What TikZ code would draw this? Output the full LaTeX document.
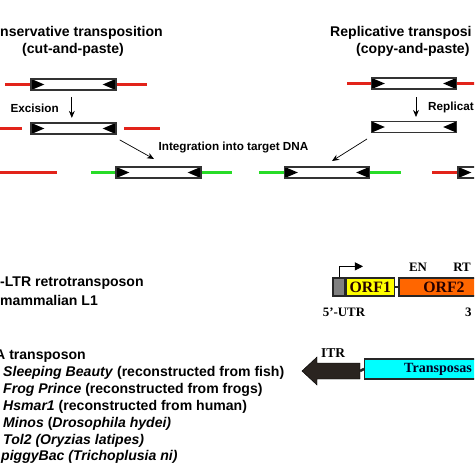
\documentclass[tikz,border=0pt]{standalone}
\usepackage{fontspec}
\setmainfont{Liberation Sans}
\newfontfamily\timesb{Liberation Serif}
\usetikzlibrary{arrows.meta,positioning}
\definecolor{hostred}{RGB}{226,35,26}
\definecolor{targetgreen}{RGB}{40,220,40}
\definecolor{orfyellow}{RGB}{255,255,0}
\definecolor{orforange}{RGB}{255,102,0}
\definecolor{itrdark}{RGB}{42,36,32}
\definecolor{tpcyan}{RGB}{0,255,255}
\tikzset{
  element/.style={draw=black!80,line width=1.2pt,fill=white,inner sep=0pt,
    minimum width=2.55cm,minimum height=0.34cm,
    path picture={
      \fill[black] (path picture bounding box.north west) -- (path picture bounding box.south west)
        -- ([xshift=0.4cm]path picture bounding box.west) -- cycle;
      \fill[black] (path picture bounding box.north east) -- (path picture bounding box.south east)
        -- ([xshift=-0.4cm]path picture bounding box.east) -- cycle;}},
  host/.style={hostred,line width=2pt},
  target/.style={targetgreen,line width=2pt},
  move/.style={-{Stealth[length=6pt,width=5pt]},line width=0.6pt},
  title/.style={inner sep=0pt,font=\bfseries\fontsize{12}{14}\selectfont},
  small/.style={inner sep=0pt,font=\bfseries\fontsize{10}{12}\selectfont},
  item/.style={inner sep=0pt,anchor=west,font=\bfseries\fontsize{12}{14}\selectfont},
  gene/.style={draw=black!85,line width=1.1pt,inner sep=0pt,minimum height=0.54cm,
    font=\timesb\bfseries\fontsize{13.5}{15}\selectfont,text=black!85!red},
  glabel/.style={inner sep=0pt,font=\timesb\bfseries\fontsize{11}{13}\selectfont},
}
\begin{document}
\begin{tikzpicture}[x=0.03cm,y=-0.03cm]
  \useasboundingbox (0,0) rectangle (474,474);
  \clip (0,0) rectangle (474,474);
  % titles
  \node[title,anchor=west] (ctitle) at (0,33) {nservative transposition};
  \node[title] (csub) at (73,50) {(cut-and-paste)};
  \node[title,anchor=west] (rtitle) at (330,33) {Replicative transposi};
  \node[title,anchor=west] (rsub) at (356,50) {(copy-and-paste)};
  % cut-and-paste
  \node[element] (c1) at (73.5,84.5) {};
  \draw[host] (5,84.5) -- (c1.west);
  \draw[host] (c1.east) -- (147,84.5);
  \node[element] (c2) at (73.5,128.5) {};
  \coordinate (c2l) at (22,128.5);
  \coordinate (c2r) at (124,128.5);
  \draw[host] (0,128.5) -- (c2l);
  \draw[host] (c2r) -- (160,128.5);
  \draw[move] ([xshift=-0.05cm]c1.south) ++(0,6) -- ++(0,21);
  \node[small,anchor=east] (exc) at (59,108) {Excision};
  \draw[host] (0,172.5) -- (57,172.5);
  \node[element] (c3) at (158.5,172.5) {};
  \draw[target] (91,172.5) -- (c3.west);
  \draw[target] (c3.east) -- (232,172.5);
  \draw[move] (c2.south east) ++(3,5) -- (154,159);
  \node[small] (integ) at (233.5,147) {Integration into target DNA};
  % copy-and-paste
  \node[element] (r1) at (414,83.5) {};
  \draw[host] (347,83.5) -- (r1.west);
  \draw[host] (r1.east) -- (480,83.5);
  \draw[move] (416,97) -- (416,117);
  \node[small,anchor=west] (repl) at (428,107) {Replicat};
  \node[element] (r2) at (414,127) {};
  \node[element] (r3) at (327,172.5) {};
  \draw[target] (259,172.5) -- (r3.west);
  \draw[target] (r3.east) -- (401,172.5);
  \draw[move] (367,139) -- (332,161);
  \node[element] (r4) at (500.5,172.5) {};
  \draw[host] (432,172.5) -- (r4.west);
  % non-LTR retrotransposon
  \node[title,anchor=west] (ltr) at (0,283) {-LTR retrotransposon};
  \node[title,anchor=west] (lone) at (0,300) {mammalian L1};
  \node[gene,fill=gray,minimum width=0.36cm] (utr5) at (339,287) {};
  \node[gene,fill=orfyellow,minimum width=1.44cm,right=0pt of utr5] (orf1) {ORF1};
  \node[gene,fill=orforange,minimum width=2.7cm] (orf2) at (444,287) {ORF2};
  \draw[black!85,line width=2.2pt] (orf1.east) -- (orf2.west);
  \draw[-{Triangle[length=7pt,width=7pt]},line width=0.7pt] (utr5.north) -- ++(0,-11) -- ++(24,0);
  \node[glabel] (en) at (418,267) {EN};
  \node[glabel] (rt) at (462,267) {RT};
  \node[glabel] (utrlbl) at (344,312) {5’-UTR};
  \node[glabel,anchor=west] (utr3) at (465,312) {3};
  % DNA transposon
  \node[item] (dna) at (-5,356) {A transposon};
  \node[item] (sb) at (3,373) {\textit{Sleeping Beauty} (reconstructed from fish)};
  \node[item] (fp) at (3,390) {\textit{Frog Prince} (reconstructed from frogs)};
  \node[item] (hs) at (3,407) {\textit{Hsmar1} (reconstructed from human)};
  \node[item] (mi) at (3,424) {\textit{Minos} (\textit{Drosophila hydei)}};
  \node[item] (tol) at (3,441) {\textit{Tol2 (Oryzias latipes)}};
  \node[item] (pb) at (1,457) {\textit{piggyBac (Trichoplusia ni)}};
  \filldraw[itrdark,draw=black] (302,371) -- (317,357) -- (317,363) -- (360,363) -- (360,379)
    -- (317,379) -- (317,385) -- cycle;
  \coordinate (itr) at (360,371);
  \node[glabel,font=\timesb\bfseries\fontsize{11.5}{13}\selectfont] (itrlbl) at (333,353) {ITR};
  \node[gene,fill=tpcyan,minimum width=4cm,minimum height=0.6cm,anchor=west] (tpase) at (364,369) {};
  \draw[black!85,line width=2.2pt] (itr) -- (tpase.west);
  \node[glabel,anchor=west,font=\timesb\bfseries\fontsize{12}{14}\selectfont,text=black!85!blue] (tptxt) at (404,369) {Transposas};
\end{tikzpicture}
\end{document}
